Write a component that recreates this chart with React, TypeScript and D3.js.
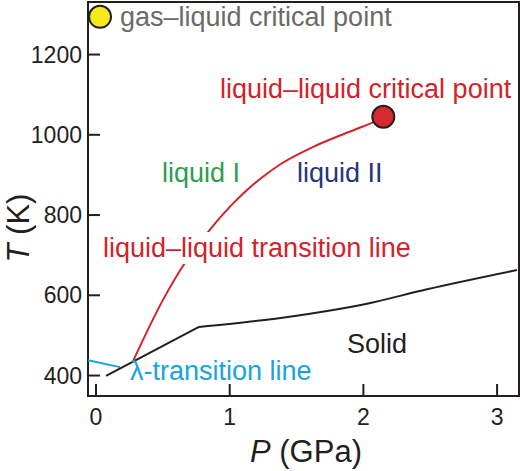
import React, { useEffect, useRef } from 'react';
import * as d3 from 'd3';

// ticks
const pTicks = [0, 1, 2, 3];
const tTicks = [400, 600, 800, 1000, 1200];

// liquid-liquid transition line (P in GPa, T in K)
const llP = [0.277, 0.5, 0.65, 0.828, 1.002, 1.127, 1.251, 1.376, 1.625, 1.875, 2.074, 2.149];
const llT = [436, 588, 673, 754, 821, 862, 896, 926, 970, 1005, 1031, 1041];

// melting line: straight up to the kink, smooth after it
const meltP = [0.075, 0.77, 1.227, 1.6, 2.0, 2.476, 3.149];
const meltT = [399, 521, 537, 554, 577, 615, 663];
const meltKink = 1; // index of the kink

// lambda transition line
const lambdaP = [-0.06, 0.18];
const lambdaT = [438, 421];

// critical points
const gasLiquidCP = { P: 0.03, T: 1294 };
const liquidLiquidCP = { P: 2.149, T: 1045 };

const W = 520;
const H = 471;

const App: React.FC = () => {
    const svgRef = useRef<SVGSVGElement>(null);

    useEffect(() => {
        const svg = d3.select(svgRef.current);
        svg.selectAll('*').remove();

        const x = d3.scaleLinear().domain([-0.06, 3.164]).range([88, 519]);
        const y = d3.scaleLinear().domain([349, 1331]).range([396, 2]);

        const font = 'Liberation Sans, Arial, Helvetica, sans-serif';
        const ink = '#231f20';

        // frame
        svg.append('rect')
            .attr('x', x(-0.06)).attr('y', y(1331))
            .attr('width', x(3.164) - x(-0.06)).attr('height', y(349) - y(1331))
            .attr('fill', 'none').attr('stroke', ink).attr('stroke-width', 2);

        // y ticks (inward)
        svg.selectAll('.ytick').data(tTicks).enter().append('line')
            .attr('x1', x(-0.06)).attr('x2', x(-0.06) + 12)
            .attr('y1', d => y(d)).attr('y2', d => y(d))
            .attr('stroke', ink).attr('stroke-width', 2);
        svg.selectAll('.ylab').data(tTicks).enter().append('text')
            .attr('x', x(-0.06) - 6).attr('y', d => y(d))
            .attr('text-anchor', 'end').attr('dominant-baseline', 'central')
            .attr('font-family', font).attr('font-size', 23).attr('fill', ink)
            .text(d => d);

        // x ticks (inward)
        svg.selectAll('.xtick').data(pTicks).enter().append('line')
            .attr('x1', d => x(d)).attr('x2', d => x(d))
            .attr('y1', y(349)).attr('y2', y(349) - 12)
            .attr('stroke', ink).attr('stroke-width', 2);
        svg.selectAll('.xlab').data(pTicks).enter().append('text')
            .attr('x', d => x(d)).attr('y', 425)
            .attr('text-anchor', 'middle')
            .attr('font-family', font).attr('font-size', 23).attr('fill', ink)
            .text(d => d);

        // axis titles
        const xt = svg.append('text')
            .attr('x', 250).attr('y', 462)
            .attr('font-family', font).attr('font-size', 31).attr('fill', ink);
        xt.append('tspan').attr('font-style', 'italic').text('P');
        xt.append('tspan').text(' (GPa)');

        const yt = svg.append('text')
            .attr('transform', 'translate(29,228) rotate(-90)')
            .attr('text-anchor', 'middle')
            .attr('font-family', font).attr('font-size', 31).attr('fill', ink);
        yt.append('tspan').attr('font-style', 'italic').text('T');
        yt.append('tspan').text(' (K)');

        const path = (P: number[], T: number[], idx: number[], curve: d3.CurveFactory, color: string) =>
            svg.append('path')
                .attr('d', d3.line<number>().x(i => x(P[i])).y(i => y(T[i])).curve(curve)(idx))
                .attr('fill', 'none').attr('stroke', color).attr('stroke-width', 2)
                .attr('stroke-linejoin', 'round');

        // lambda line
        path(lambdaP, lambdaT, d3.range(lambdaP.length), d3.curveLinear, '#1aa3dd');

        // melting line
        path(meltP, meltT, d3.range(0, meltKink + 1), d3.curveLinear, ink);
        path(meltP, meltT, d3.range(meltKink, meltP.length), d3.curveMonotoneX, ink);

        // liquid-liquid line
        path(llP, llT, d3.range(llP.length), d3.curveMonotoneX, '#d2232a');

        const label = (px: number, py: number, txt: string, color: string) =>
            svg.append('text')
                .attr('x', px).attr('y', py)
                .attr('font-family', font).attr('font-size', 27).attr('fill', color)
                .text(txt);

        // transition label with white background cutting the line
        const bg = svg.append('rect').attr('fill', 'white');
        const tl = label(103, 257, 'liquid\u2013liquid transition line', '#d2232a');
        const bb = (tl.node() as SVGTextElement).getBBox();
        bg.attr('x', bb.x - 2).attr('y', bb.y - 1).attr('width', bb.width + 4).attr('height', bb.height + 2);

        label(120, 26, 'gas\u2013liquid critical point', '#6b6b66');
        label(220, 98, 'liquid\u2013liquid critical point', '#d2232a');
        label(162, 182, 'liquid I', '#2e9e4f');
        label(297, 182, 'liquid II', '#28347e');
        label(347, 353, 'Solid', ink);
        label(130, 380, '\u03bb-transition line', '#1aa3dd');

        // critical points
        svg.append('circle')
            .attr('cx', x(gasLiquidCP.P)).attr('cy', y(gasLiquidCP.T)).attr('r', 11)
            .attr('fill', '#f7ea1c').attr('stroke', ink).attr('stroke-width', 2);
        svg.append('circle')
            .attr('cx', x(liquidLiquidCP.P)).attr('cy', y(liquidLiquidCP.T)).attr('r', 11)
            .attr('fill', '#d42a2f').attr('stroke', ink).attr('stroke-width', 2);
    }, []);

    return (
        <svg
            ref={svgRef}
            width={W}
            height={H}
            style={{ position: 'absolute', left: 0, top: 0, background: 'white' }}
        />
    );
};

export default App;
